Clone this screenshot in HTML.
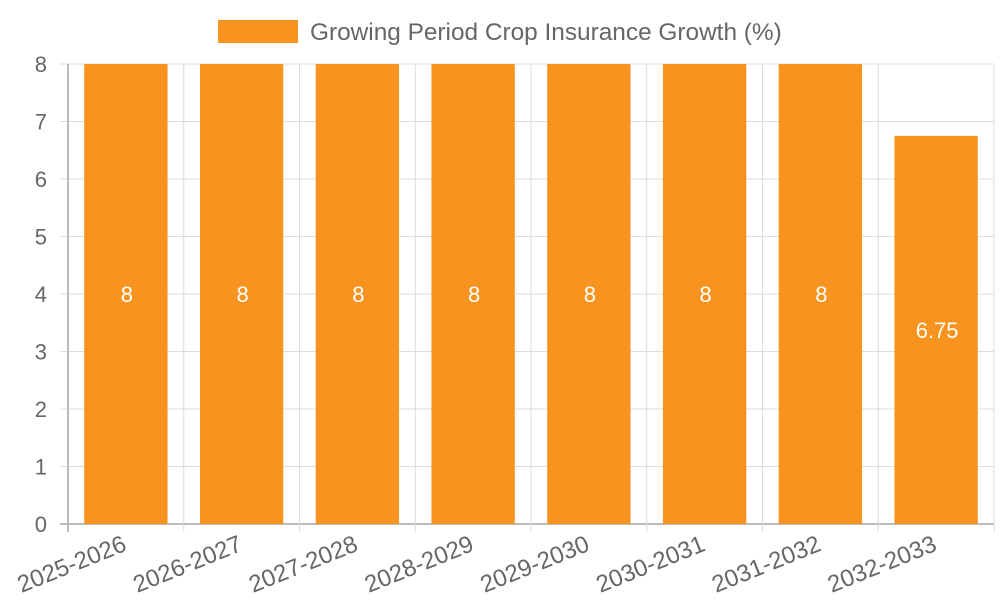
<!DOCTYPE html>
<html><head><meta charset="utf-8"><style>
body{margin:0;background:#fff;}
svg text{font-family:"Liberation Sans",sans-serif;}
</style></head><body>
<svg id="chart" width="1000" height="600">
<g>
<rect x="218" y="20" width="80" height="23" fill="#f7931e"/>
<text x="310" y="40" font-size="24.4" fill="#666">Growing Period Crop Insurance Growth (%)</text>
</g>
<g id="grid"></g><g id="bars"></g><g id="axes"></g>
</svg>
<script>
const categories=["2025-2026","2026-2027","2027-2028","2028-2029","2029-2030","2030-2031","2031-2032","2032-2033"];
const values=[8,8,8,8,8,8,8,6.75];
const yTicks=[0,1,2,3,4,5,6,7,8];
const valueLabels=["8","8","8","8","8","8","8","6.75"];
const NS="http://www.w3.org/2000/svg";
const L=68,R=994,T=64,B=524,yMax=8;
const band=(R-L)/categories.length;
const y=v=>B-(v/yMax)*(B-T);
const x=i=>L+band*i;
function mk(tag,attrs,parent){const e=document.createElementNS(NS,tag);for(const k in attrs)e.setAttribute(k,attrs[k]);parent.appendChild(e);return e;}
const grid=document.getElementById('grid'),bars=document.getElementById('bars'),axes=document.getElementById('axes');
yTicks.forEach(t=>{
 const ln=mk('line',{x1:L-8,x2:R,y1:y(t),y2:y(t),stroke:t===0?'#bbb':'#dcdcdc','stroke-width':t===0?2:1},grid);
 
 
 const tx=mk('text',{x:47,y:y(t)+8,'text-anchor':'end','font-size':22,fill:'#666'},axes);
 tx.textContent=t;
 
 
});
for(let i=0;i<=categories.length;i++){
 const ln=mk('line',{x1:x(i),x2:x(i),y1:T,y2:B+8,stroke:i===0?'#bbb':'#dcdcdc','stroke-width':i===0?2:1},grid);
 
 
}
categories.forEach((c,i)=>{
 const bw=band*0.72,bx=x(i)+(band-bw)/2;
 const r=mk('rect',{x:bx,y:y(values[i]),width:bw,height:B-y(values[i]),fill:'#f7931e'},bars);
 
 
 const vl=mk('text',{x:x(i)+band/2+1,y:(y(values[i])+B)/2+8,'text-anchor':'middle','font-size':22,fill:'#fff'},bars);
 vl.textContent=valueLabels[i];
 
 
 const cx=x(i)+band/2+2,cy=B+26;
 const tl=mk('text',{x:cx,y:cy,'text-anchor':'end','font-size':24,fill:'#666',transform:`rotate(-22 ${cx} ${cy})`},axes);
 tl.textContent=c;
 
 
});
</script>
</body></html>
